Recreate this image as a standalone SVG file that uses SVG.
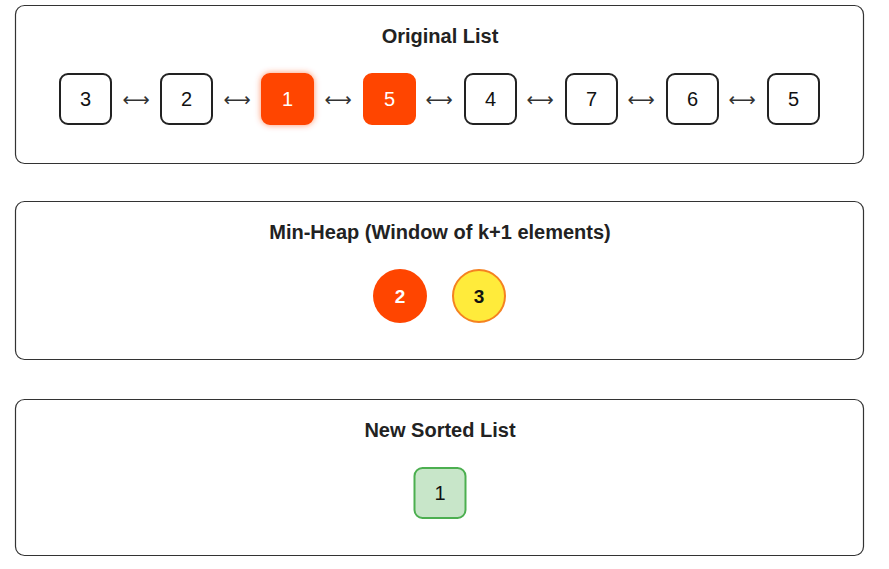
<svg xmlns="http://www.w3.org/2000/svg" width="889" height="569" viewBox="0 0 889 569">
<style>
.panel{fill:#fff;stroke:#333;stroke-width:1.2}
.title{font-family:"Liberation Sans",Arial,sans-serif;font-size:20px;font-weight:bold;fill:#222;text-anchor:middle}
.box{fill:#fff;stroke:#222;stroke-width:2}
.hot{fill:#ff4500;stroke:#ff4500;stroke-width:2}
.num{font-family:"Liberation Sans",Arial,sans-serif;font-size:20px;fill:#111;text-anchor:middle;dominant-baseline:central}
.wnum{fill:#fff}
.arr{font-family:"DejaVu Sans",sans-serif;font-size:19px;fill:#333;text-anchor:middle;dominant-baseline:central}
.bnum{font-family:"Liberation Sans",Arial,sans-serif;font-size:19px;font-weight:bold;text-anchor:middle;dominant-baseline:central}
</style>
<defs>
<filter id="glow" x="-50%" y="-50%" width="200%" height="200%">
<feGaussianBlur in="SourceAlpha" stdDeviation="4"/>
<feFlood flood-color="#ff4500" flood-opacity="0.6"/>
<feComposite operator="in" in2="SourceAlpha"/>
<feGaussianBlur stdDeviation="3"/>
<feMerge><feMergeNode/><feMergeNode in="SourceGraphic"/></feMerge>
</filter>
</defs>
<g id="panel-original">
<rect class="panel" x="15.5" y="5.5" width="848" height="158" rx="9"/>
<text class="title" x="440" y="43">Original List</text>
</g>
<g id="panel-heap">
<rect class="panel" x="15.5" y="201.5" width="848" height="158" rx="9"/>
<text class="title" x="440" y="239">Min-Heap (Window of k+1 elements)</text>
</g>
<g id="panel-sorted">
<rect class="panel" x="15.5" y="399.5" width="848" height="156" rx="9"/>
<text class="title" x="440" y="437">New Sorted List</text>
</g>
<g id="connectors">
<text class="arr" x="136" y="99">⟷</text>
<text class="arr" x="237" y="99">⟷</text>
<text class="arr" x="338" y="99">⟷</text>
<text class="arr" x="439" y="99">⟷</text>
<text class="arr" x="540" y="99">⟷</text>
<text class="arr" x="641" y="99">⟷</text>
<text class="arr" x="742" y="99">⟷</text>
</g>
<g id="n1"><rect class="box" x="60" y="74" width="51" height="50" rx="8"/><text class="num" x="85.5" y="99">3</text></g>
<g id="n2"><rect class="box" x="161" y="74" width="51" height="50" rx="8"/><text class="num" x="186.5" y="99">2</text></g>
<g id="n3"><rect class="hot" x="262" y="74" width="51" height="50" rx="8" filter="url(#glow)"/><text class="num wnum" x="287.5" y="99">1</text></g>
<g id="n4"><rect class="hot" x="364" y="74" width="51" height="50" rx="8"/><text class="num wnum" x="389.5" y="99">5</text></g>
<g id="n5"><rect class="box" x="465" y="74" width="51" height="50" rx="8"/><text class="num" x="490.5" y="99">4</text></g>
<g id="n6"><rect class="box" x="566" y="74" width="51" height="50" rx="8"/><text class="num" x="591.5" y="99">7</text></g>
<g id="n7"><rect class="box" x="667" y="74" width="51" height="50" rx="8"/><text class="num" x="692.5" y="99">6</text></g>
<g id="n8"><rect class="box" x="768" y="74" width="51" height="50" rx="8"/><text class="num" x="793.5" y="99">5</text></g>
<g id="h1"><circle cx="400" cy="296" r="27" fill="#ff4500"/><text class="bnum" x="400" y="296" fill="#fff">2</text></g>
<g id="h2"><circle cx="479" cy="296" r="26" fill="#ffeb3b" stroke="#f58220" stroke-width="2"/><text class="bnum" x="479" y="296" fill="#111">3</text></g>
<g id="s1"><rect x="414.5" y="468" width="51" height="50" rx="8" fill="#c8e6c9" stroke="#4caf50" stroke-width="2"/><text class="num" x="440" y="493">1</text></g>
</svg>
